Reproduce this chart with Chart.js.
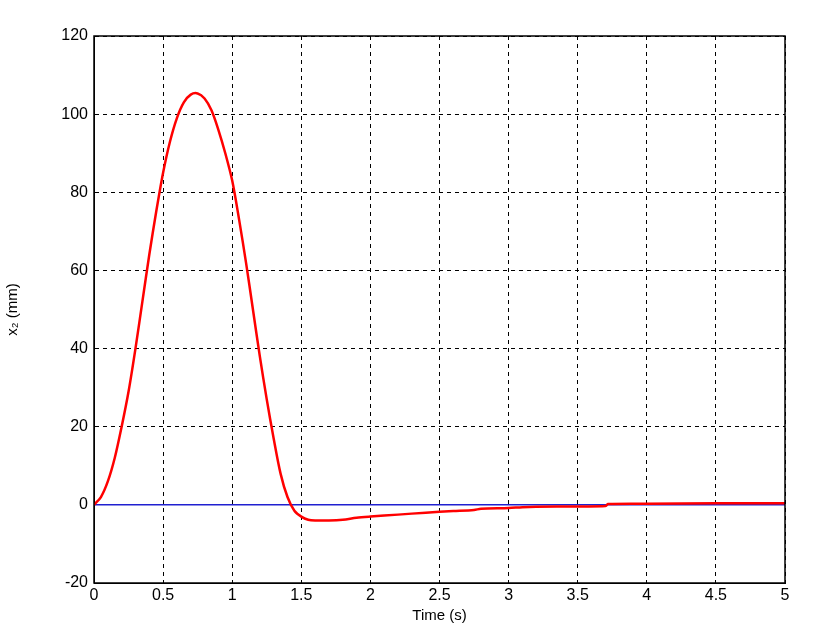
<!DOCTYPE html>
<html><head><meta charset="utf-8">
<script src="https://cdn.jsdelivr.net/npm/chart.js@4"></script>
<style>html,body{margin:0;padding:0;background:#fff}#w{width:815px;height:629px}</style>
</head><body><div id="w"><canvas id="c"></canvas></div>
<script>
const timeS = [0,0.05,0.1,0.15,0.2,0.25,0.3,0.35,0.4,0.45,0.5,0.55,0.6,0.65,0.7,0.75,0.8,0.85,0.9,0.95,1.0,1.05,1.1,1.15,1.2,1.25,1.3,1.35,1.4,1.45,1.5,1.55,1.6,1.7,1.8,1.9,2.0,2.2,2.4,2.6,2.75,2.8,3.0,3.1,3.2,3.5,3.7,3.72,4.0,4.5,5.0];
const x2mm = [0,2,6,12,20,29,40,52,64,75,85,93,99,103,105,105.3,104,101,96,90,83,73,62,50,38,27,17,8,2,-1.5,-3,-3.8,-4,-4,-3.8,-3.3,-3,-2.5,-2,-1.6,-1.3,-1,-0.8,-0.6,-0.5,-0.4,-0.3,0.2,0.3,0.4,0.4];
const refT = [0,5];
const refY = [0,0];
const xTicks = [0,0.5,1,1.5,2,2.5,3,3.5,4,4.5,5];

const frame = {id:'frame', afterDraw(c){const a=c.chartArea,x=c.ctx;x.save();x.strokeStyle='#000';x.lineWidth=1.5;x.setLineDash([]);x.strokeRect(a.left,a.top,a.right-a.left,a.bottom-a.top);x.restore();}};

new Chart(document.getElementById('c'), {
  type: 'line',
  data: { datasets: [
    { data: refT.map((t,i)=>({x:t,y:refY[i]})), borderColor:'#2020d0', borderWidth:1.5, pointRadius:0, order:2 },
    { data: timeS.map((t,i)=>({x:t,y:x2mm[i]})), borderColor:'#ff0000', borderWidth:2.5, pointRadius:0, tension:0.3, order:1 }
  ]},
  options: {
    responsive:true, maintainAspectRatio:false, animation:false,
    layout:{padding:{top:36,right:30,left:0,bottom:0}},
    plugins:{legend:{display:false},tooltip:{enabled:false}},
    scales:{
      x:{type:'linear',min:0,max:5,
        afterBuildTicks:s=>{s.ticks=xTicks.map(v=>({value:v}));},
        afterFit:s=>{s.height=46;},
        grid:{color:'#000',drawTicks:false,lineWidth:1},
        border:{color:'#000',width:1,dash:[4,4]},
        ticks:{color:'#000',font:{family:'Liberation Sans',size:16},padding:3,maxRotation:0,callback:v=>String(v)},
        title:{display:true,text:'Time (s)',color:'#000',font:{family:'Liberation Sans',size:15},padding:{top:0}}},
      y:{min:-20,max:120,
        afterFit:s=>{s.width=94;},
        grid:{color:'#000',drawTicks:false,lineWidth:1},
        border:{color:'#000',width:1,dash:[4,4]},
        ticks:{stepSize:20,color:'#000',font:{family:'Liberation Sans',size:16},padding:6},
        title:{display:true,text:'x₂ (mm)',color:'#000',font:{family:'Liberation Sans',size:15}}}
    }
  },
  plugins:[frame]
});
</script></body></html>
